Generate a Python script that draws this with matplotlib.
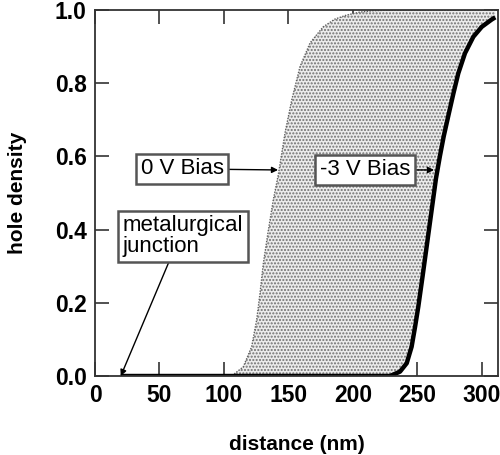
import numpy as np
import matplotlib
matplotlib.use("Agg")
import matplotlib.pyplot as plt

plt.rcParams['font.family'] = ['Liberation Sans', 'DejaVu Sans']

# -3 V bias hole density profile (thick line)
x_3v = [20, 228.9, 236.6, 241.8, 245.6, 248.3, 250.8, 254, 257.5, 261, 264.5,
        267.5, 270.5, 274, 278, 281.8, 287, 293.5, 300, 307.7, 310.5]
y_3v = [0, 0, 0.012, 0.035, 0.08, 0.135, 0.19, 0.27, 0.36, 0.45, 0.54,
        0.6, 0.655, 0.71, 0.772, 0.827, 0.882, 0.927, 0.954, 0.974, 0.98]

# 0 V bias hole density profile (edge of shaded region)
x_0v = [20, 104, 107, 115, 121.5, 125.4, 128, 130.6, 134.5, 138.3, 142.2,
        147.4, 152.6, 159, 166.8, 177, 186, 195, 205, 215, 230, 310.5]
y_0v = [0, 0, 0.003, 0.025, 0.08, 0.153, 0.226, 0.308, 0.399, 0.481, 0.55,
        0.664, 0.754, 0.845, 0.91, 0.954, 0.975, 0.986, 0.994, 0.998, 1.0, 1.0]

xticks = [0, 50, 100, 150, 200, 250, 300]
yticks = [0.0, 0.2, 0.4, 0.6, 0.8, 1.0]

fig = plt.figure(figsize=(5, 4.55), dpi=100)
ax = fig.add_axes([0.19, 0.1736, 0.806, 0.8044])

# stippled region between the two profiles
poly_x = np.concatenate([x_0v, x_3v[::-1]])
poly_y = np.concatenate([y_0v, y_3v[::-1]])
plt.rcParams['hatch.color'] = '#707070'
plt.rcParams['hatch.linewidth'] = 1.0
ax.fill(poly_x, poly_y, facecolor='#ececec', hatch='.....', edgecolor='#707070',
        linewidth=0, zorder=2.6)
ax.plot(x_0v, y_0v, color='#606060', lw=1.0, ls=(0, (1, 1)), zorder=2.7)
ax.plot(x_3v, y_3v, color='black', lw=3.2, solid_capstyle='butt',
        solid_joinstyle='round', zorder=3)

ax.set_xlim(0, 312.6)
ax.set_ylim(0, 1.0)
ax.set_xticks(xticks)
ax.set_yticks(yticks)
ax.set_xticklabels([str(t) for t in xticks], fontweight='bold', fontsize=16.5)
ax.set_yticklabels(['%.1f' % t for t in yticks], fontweight='bold', fontsize=16.5)
ax.tick_params(direction='in', length=10, width=1.2, top=True, right=True,
               color='#333333')
ax.tick_params(axis='x', pad=6)
ax.tick_params(axis='y', pad=6)
for s in ax.spines.values():
    s.set_linewidth(1.3)
    s.set_color('#333333')
    s.set_zorder(4)

ax.set_xlabel('distance (nm)', fontweight='bold', fontsize=15, labelpad=20)
ax.set_ylabel('hole density', fontweight='bold', fontsize=15, labelpad=20)

box = dict(boxstyle='square,pad=0.2', facecolor='white', edgecolor='#555555', lw=1.8)
arrow = dict(arrowstyle='-|>', color='black', lw=1.0, mutation_scale=9, shrinkA=0, shrinkB=0)

ax.annotate('0 V Bias', xy=(142, 0.563), xytext=(67.5, 0.566),
            ha='center', va='center', fontsize=16, bbox=box, arrowprops=arrow, zorder=5)
ax.annotate('-3 V Bias', xy=(263, 0.563), xytext=(209.5, 0.563),
            ha='center', va='center', fontsize=16, bbox=box, arrowprops=arrow, zorder=5)
ax.annotate('metalurgical\njunction', xy=(20, 0.0), xytext=(21.5, 0.382),
            ha='left', va='center', fontsize=16, bbox=box, linespacing=1.0,
            arrowprops=dict(arrow, relpos=(0.4, 0.0)), zorder=5)

fig.savefig('out.png', dpi=100)
